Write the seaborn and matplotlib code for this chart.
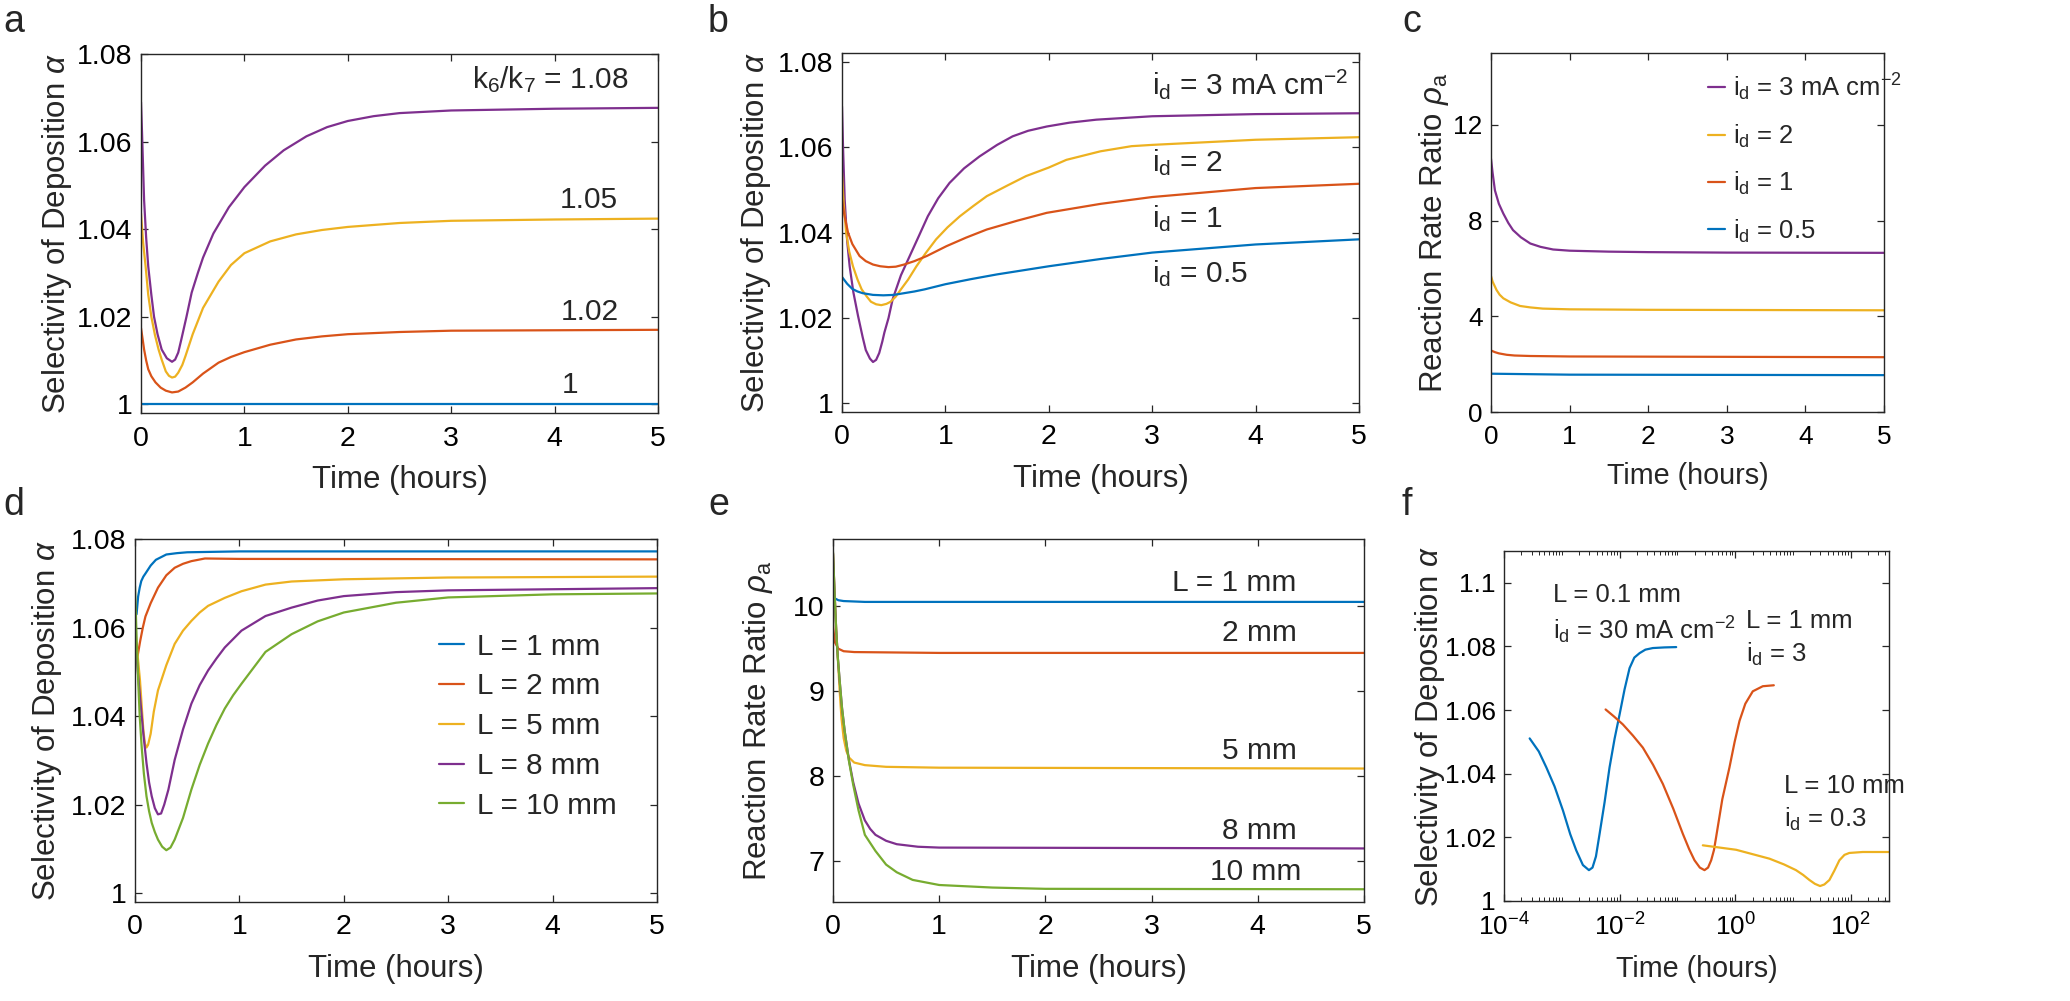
import math
import matplotlib
matplotlib.use('Agg')
import matplotlib.pyplot as plt
import matplotlib.ticker as mticker
from matplotlib import font_manager
import seaborn as sns

# MATLAB default line colours
BLUE = '#0072BD'
RED = '#D95319'
YELLOW = '#EDB120'
PURPLE = '#7E2F8E'
GREEN = '#77AC30'

# ---- panel a: selectivity vs time for several k6/k7 ----
a_labels = ['k$_\\mathregular{6}$/k$_\\mathregular{7}$ = 1.08', '1.05', '1.02', '1']
a_t_108 = [0, 0.01, 0.03, 0.05, 0.07, 0.1, 0.126, 0.16, 0.2, 0.25, 0.3, 0.33, 0.36, 0.39, 0.44, 0.49, 0.55, 0.6, 0.7, 0.85, 1.0, 1.2, 1.38, 1.6, 1.8, 2.0, 2.25, 2.5, 3.0, 4.0, 5.0]
a_v_108 = [1.069, 1.062, 1.0466, 1.038, 1.0315, 1.025, 1.020, 1.016, 1.0125, 1.0105, 1.0097, 1.0102, 1.0118, 1.0148, 1.020, 1.0255, 1.030, 1.0335, 1.039, 1.045, 1.0496, 1.0545, 1.058, 1.0612, 1.0633, 1.0647, 1.0658, 1.0665, 1.0671, 1.0675, 1.0677]
a_t_105 = [0, 0.02, 0.045, 0.07, 0.1, 0.135, 0.17, 0.2, 0.24, 0.27, 0.3, 0.33, 0.36, 0.4, 0.43, 0.5, 0.6, 0.75, 0.87, 1.0, 1.25, 1.5, 1.75, 2.0, 2.5, 3.0, 4.0, 5.0]
a_v_105 = [1.0436, 1.037, 1.0314, 1.025, 1.020, 1.0158, 1.0125, 1.0102, 1.0075, 1.0065, 1.0061, 1.0063, 1.0072, 1.009, 1.011, 1.016, 1.022, 1.028, 1.0318, 1.0345, 1.0372, 1.0388, 1.0398, 1.0405, 1.0414, 1.0419, 1.0422, 1.0424]
a_t_102 = [0, 0.015, 0.03, 0.05, 0.07, 0.1, 0.14, 0.19, 0.24, 0.3, 0.36, 0.43, 0.5, 0.6, 0.75, 0.87, 1.0, 1.25, 1.5, 1.75, 2.0, 2.5, 3.0, 4.0, 5.0]
a_v_102 = [1.0174, 1.015, 1.0125, 1.010, 1.008, 1.0064, 1.005, 1.0038, 1.0031, 1.0027, 1.0029, 1.0038, 1.005, 1.007, 1.0095, 1.0108, 1.0119, 1.0136, 1.0148, 1.0155, 1.016, 1.0165, 1.0168, 1.0169, 1.017]
a_t_100 = [0, 5.0]
a_v_100 = [1.0, 1.0]

# ---- panel b: selectivity vs time for several i_d ----
b_t_3 = [0, 0.01, 0.026, 0.05, 0.074, 0.11, 0.155, 0.2, 0.23, 0.27, 0.3, 0.33, 0.36, 0.39, 0.41, 0.45, 0.49, 0.57, 0.655, 0.74, 0.83, 0.93, 1.04, 1.18, 1.33, 1.5, 1.65, 1.8, 1.98, 2.2, 2.46, 3.0, 4.0, 5.0]
b_v_3 = [1.0695, 1.060, 1.0477, 1.038, 1.0321, 1.026, 1.0205, 1.0155, 1.0125, 1.0105, 1.0097, 1.0102, 1.0118, 1.0145, 1.0166, 1.020, 1.0244, 1.030, 1.0345, 1.039, 1.0438, 1.048, 1.0516, 1.055, 1.0578, 1.0605, 1.0625, 1.0638, 1.0648, 1.0657, 1.0664, 1.0672, 1.0677, 1.0679]
b_t_2 = [0, 0.015, 0.04, 0.07, 0.106, 0.15, 0.19, 0.24, 0.28, 0.33, 0.38, 0.43, 0.47, 0.52, 0.57, 0.64, 0.72, 0.81, 0.91, 1.02, 1.14, 1.27, 1.40, 1.6, 1.78, 2.0, 2.17, 2.5, 2.8, 3.0, 4.0, 5.0]
b_v_2 = [1.054, 1.047, 1.040, 1.0355, 1.0321, 1.029, 1.0267, 1.025, 1.0238, 1.0232, 1.023, 1.0233, 1.0238, 1.025, 1.0267, 1.029, 1.0321, 1.0352, 1.0384, 1.0412, 1.0438, 1.0462, 1.0485, 1.051, 1.0532, 1.0552, 1.057, 1.059, 1.0602, 1.0605, 1.0617, 1.0623]
b_t_1 = [0, 0.02, 0.058, 0.1, 0.17, 0.23, 0.3, 0.37, 0.45, 0.52, 0.6, 0.7, 0.82, 1.01, 1.2, 1.4, 1.7, 1.98, 2.5, 3.0, 4.0, 5.0]
b_v_1 = [1.0477, 1.0445, 1.040, 1.0373, 1.0345, 1.0333, 1.0325, 1.0321, 1.0319, 1.032, 1.0325, 1.0333, 1.0345, 1.0368, 1.0388, 1.0407, 1.0428, 1.0446, 1.0467, 1.0483, 1.0504, 1.0514]
b_t_05 = [0, 0.05, 0.1, 0.15, 0.2, 0.3, 0.4, 0.5, 0.6, 0.7, 0.8, 1.0, 1.25, 1.5, 2.0, 2.5, 3.0, 4.0, 5.0]
b_v_05 = [1.0296, 1.028, 1.0268, 1.0262, 1.0258, 1.0254, 1.0253, 1.0254, 1.0258, 1.0262, 1.0267, 1.0279, 1.0291, 1.0302, 1.0321, 1.0338, 1.0353, 1.0372, 1.0384]

# ---- panel c: reaction rate ratio for several i_d ----
c_labels = ['i$_\\mathregular{d}$ = 3 mA cm$^\\mathregular{-2}$', 'i$_\\mathregular{d}$ = 2',
            'i$_\\mathregular{d}$ = 1', 'i$_\\mathregular{d}$ = 0.5']
c_t_3 = [0, 0.02, 0.05, 0.1, 0.157, 0.22, 0.28, 0.38, 0.5, 0.63, 0.79, 1.0, 1.5, 2.0, 3.0, 5.0]
c_v_3 = [10.58, 10.0, 9.26, 8.7, 8.29, 7.9, 7.6, 7.3, 7.04, 6.9, 6.79, 6.74, 6.70, 6.68, 6.66, 6.65]
c_t_2 = [0, 0.02, 0.07, 0.11, 0.157, 0.25, 0.37, 0.5, 0.66, 1.0, 2.0, 5.0]
c_v_2 = [5.68, 5.45, 5.1, 4.9, 4.75, 4.58, 4.43, 4.37, 4.32, 4.29, 4.27, 4.25]
c_t_1 = [0, 0.05, 0.1, 0.2, 0.3, 0.5, 1.0, 5.0]
c_v_1 = [2.57, 2.50, 2.45, 2.39, 2.36, 2.34, 2.32, 2.29]
c_t_05 = [0, 1.0, 5.0]
c_v_05 = [1.60, 1.56, 1.54]

# ---- panel d: selectivity vs time for several L ----
d_labels = ['L = 1 mm', 'L = 2 mm', 'L = 5 mm', 'L = 8 mm', 'L = 10 mm']
d_t_1 = [0.015, 0.03, 0.045, 0.06, 0.08, 0.1, 0.15, 0.2, 0.3, 0.4, 0.5, 1.0, 5.0]
d_v_1 = [1.063, 1.067, 1.069, 1.0705, 1.0715, 1.0722, 1.074, 1.0753, 1.0765, 1.0768, 1.077, 1.0772, 1.0772]
d_t_2 = [0.025, 0.05, 0.075, 0.1, 0.15, 0.22, 0.3, 0.38, 0.46, 0.54, 0.67, 1.0, 5.0]
d_v_2 = [1.0536, 1.057, 1.060, 1.0625, 1.0655, 1.069, 1.0718, 1.0735, 1.0744, 1.075, 1.0756, 1.0755, 1.0754]
d_t_5 = [0, 0.02, 0.048, 0.065, 0.08, 0.095, 0.11, 0.125, 0.15, 0.18, 0.22, 0.3, 0.38, 0.46, 0.54, 0.62, 0.70, 0.86, 1.02, 1.25, 1.5, 2.0, 3.0, 5.0]
d_v_5 = [1.058, 1.055, 1.048, 1.042, 1.0368, 1.0338, 1.0329, 1.0335, 1.036, 1.041, 1.0458, 1.0515, 1.0563, 1.0593, 1.0615, 1.0634, 1.0649, 1.0667, 1.0682, 1.0697, 1.0704, 1.0709, 1.0713, 1.0715]
d_t_8 = [0, 0.02, 0.048, 0.08, 0.11, 0.135, 0.16, 0.19, 0.22, 0.25, 0.28, 0.32, 0.38, 0.46, 0.54, 0.62, 0.70, 0.78, 0.86, 1.02, 1.25, 1.5, 1.75, 2.0, 2.5, 3.0, 5.0]
d_v_8 = [1.057, 1.052, 1.0443, 1.036, 1.0294, 1.025, 1.0219, 1.0192, 1.0178, 1.018, 1.020, 1.0234, 1.0301, 1.037, 1.0428, 1.047, 1.0503, 1.053, 1.0555, 1.0593, 1.0626, 1.0645, 1.0661, 1.0671, 1.068, 1.0684, 1.0689]
d_t_10 = [0, 0.015, 0.03, 0.045, 0.064, 0.085, 0.11, 0.135, 0.16, 0.19, 0.22, 0.26, 0.30, 0.34, 0.38, 0.46, 0.54, 0.62, 0.70, 0.78, 0.86, 0.94, 1.02, 1.25, 1.5, 1.75, 2.0, 2.5, 3.0, 4.0, 5.0]
d_v_10 = [1.0694, 1.058, 1.0482, 1.040, 1.033, 1.027, 1.0219, 1.0185, 1.0159, 1.0138, 1.0121, 1.0105, 1.0097, 1.0103, 1.0121, 1.017, 1.0234, 1.029, 1.0338, 1.038, 1.0417, 1.0447, 1.0473, 1.0545, 1.0585, 1.0614, 1.0634, 1.0656, 1.0668, 1.0675, 1.0677]

# ---- panel e: reaction rate ratio for several L ----
e_labels = ['L = 1 mm', '2 mm', '5 mm', '8 mm', '10 mm']
e_t_1 = [0, 0.02, 0.05, 0.1, 0.3, 5.0]
e_v_1 = [10.12, 10.09, 10.07, 10.06, 10.05, 10.05]
e_t_2 = [0, 0.01, 0.02, 0.05, 0.1, 0.2, 1.0, 5.0]
e_v_2 = [9.78, 9.65, 9.57, 9.50, 9.47, 9.46, 9.45, 9.45]
e_t_5 = [0, 0.015, 0.03, 0.045, 0.063, 0.08, 0.1, 0.125, 0.15, 0.2, 0.3, 0.5, 1.0, 5.0]
e_v_5 = [10.62, 10.15, 9.72, 9.4, 9.0, 8.68, 8.45, 8.30, 8.22, 8.16, 8.13, 8.11, 8.10, 8.09]
e_t_8 = [0, 0.015, 0.03, 0.045, 0.063, 0.085, 0.11, 0.15, 0.19, 0.24, 0.3, 0.35, 0.4, 0.5, 0.6, 0.8, 1.0, 5.0]
e_v_8 = [10.62, 10.15, 9.72, 9.4, 9.12, 8.8, 8.53, 8.19, 7.93, 7.68, 7.48, 7.38, 7.31, 7.24, 7.20, 7.17, 7.16, 7.15]
e_t_10 = [0, 0.015, 0.03, 0.045, 0.063, 0.085, 0.11, 0.15, 0.19, 0.24, 0.3, 0.4, 0.5, 0.6, 0.75, 1.0, 1.5, 2.0, 5.0]
e_v_10 = [10.64, 10.15, 9.72, 9.4, 9.12, 8.8, 8.53, 8.18, 7.90, 7.60, 7.31, 7.12, 6.96, 6.87, 6.78, 6.72, 6.69, 6.675, 6.67]

# ---- panel f: selectivity vs log time, three cases ----
f_labels = ['L = 0.1 mm', 'i$_\\mathregular{d}$ = 30 mA cm$^\\mathregular{-2}$',
            'L = 1 mm', 'i$_\\mathregular{d}$ = 3', 'L = 10 mm', 'i$_\\mathregular{d}$ = 0.3']
f_t_01 = [2.78e-4, 4.0e-4, 5.4e-4, 7.5e-4, 1.05e-3, 1.4e-3, 1.78e-3, 2.32e-3, 2.95e-3, 3.4e-3, 3.9e-3, 4.51e-3, 5.5e-3, 6.71e-3, 8.2e-3, 1.0e-2, 1.22e-2, 1.49e-2, 1.8e-2, 2.22e-2, 2.8e-2, 3.77e-2, 6.0e-2, 9.55e-2]
f_v_01 = [1.0511, 1.047, 1.042, 1.036, 1.0284, 1.021, 1.0159, 1.0113, 1.0097, 1.0105, 1.014, 1.0211, 1.031, 1.042, 1.051, 1.0586, 1.0665, 1.0732, 1.0765, 1.0779, 1.079, 1.0795, 1.0797, 1.0798]
f_t_1 = [5.73e-3, 8.0e-3, 1.14e-2, 1.7e-2, 2.53e-2, 3.8e-2, 5.61e-2, 8.5e-2, 0.1245, 0.16, 0.198, 0.245, 0.295, 0.34, 0.385, 0.43, 0.469, 0.6, 0.798, 0.98, 1.19, 1.5, 2.02, 3.01, 4.67]
f_v_1 = [1.0602, 1.058, 1.0555, 1.052, 1.0482, 1.0428, 1.0368, 1.029, 1.0211, 1.0163, 1.0128, 1.0105, 1.0097, 1.0105, 1.0128, 1.016, 1.0201, 1.032, 1.042, 1.050, 1.0566, 1.062, 1.0659, 1.0675, 1.0678]
f_t_10 = [0.276, 1.04, 3.93, 7.0, 11.3, 15.0, 19.3, 24.0, 29.5, 35.0, 42.8, 52.0, 63.7, 78.0, 94.8, 161, 460]
f_v_10 = [1.0175, 1.0161, 1.0133, 1.0115, 1.0097, 1.0082, 1.0066, 1.0054, 1.0047, 1.0052, 1.0066, 1.0095, 1.0128, 1.0145, 1.0151, 1.0154, 1.0154]

sns.set_theme(style='ticks')
plt.rcParams['font.family'] = ['Liberation Sans', 'DejaVu Sans']
plt.rcParams['mathtext.fontset'] = 'custom'
plt.rcParams['mathtext.rm'] = 'Liberation Sans'
plt.rcParams['mathtext.it'] = 'Liberation Sans:italic'
plt.rcParams['mathtext.bf'] = 'Liberation Sans:bold'

# panels c and f were squeezed sideways in the original; use a narrow face if there is one,
# otherwise fall back to a somewhat smaller Liberation Sans
installed = {f.name for f in font_manager.fontManager.ttflist}
if 'Liberation Sans Narrow' in installed:
    NARROW, NSCALE = 'Liberation Sans Narrow', 1.0
else:
    NARROW, NSCALE = 'Liberation Sans', 0.86

W, H = 2070, 1001
fig = plt.figure(figsize=(W / 100, H / 100), dpi=100)


def make_ax(l, r, t, b):
    return fig.add_axes([l / W, 1 - b / H, (r - l) / W, (b - t) / H])


TICK = 20.5
LAB = 22.5
ANN = 21.5
LW = 1.6


def style(ax, narrow=False):
    fam = NARROW if narrow else 'Liberation Sans'
    for s in ax.spines.values():
        s.set_color('#262626')
        s.set_linewidth(1.0)
    ax.tick_params(which='major', direction='in', length=5, width=0.9, top=True, right=True,
                   color='#262626', labelsize=TICK, labelcolor='black')
    ax.tick_params(axis='x', pad=9)
    ax.tick_params(axis='y', pad=6)
    tsize = (TICK * 1.05 if NSCALE == 1.0 else TICK * 0.92) if narrow else TICK
    for lab in ax.get_xticklabels() + ax.get_yticklabels():
        lab.set_family(fam)
        lab.set_fontsize(tsize)
    xs = (LAB if NSCALE == 1.0 else LAB * 0.92) if narrow else LAB
    ax.set_xlabel('Time (hours)', fontsize=xs, family=fam, labelpad=10)


def draw(ax, t, v, c, label=None):
    sns.lineplot(x=t, y=v, ax=ax, color=c, linewidth=LW, label=label, errorbar=None)


SEL = 'Selectivity of Deposition $\\alpha$'
RR = 'Reaction Rate Ratio $\\rho_\\mathregular{a}$'
gfmt = mticker.FuncFormatter(lambda x, p: '%g' % round(x, 4))

# a
ax = make_ax(141, 658, 54, 413)
for t, v, c in [(a_t_108, a_v_108, PURPLE), (a_t_105, a_v_105, YELLOW),
                (a_t_102, a_v_102, RED), (a_t_100, a_v_100, BLUE)]:
    draw(ax, t, v, c)
ax.set_xlim(0, 5)
ax.set_ylim(0.998, 1.08)
ax.set_xticks(range(6))
ax.set_yticks([1, 1.02, 1.04, 1.06, 1.08])
ax.yaxis.set_major_formatter(gfmt)
ax.set_ylabel(SEL, fontsize=LAB, labelpad=2)
style(ax)
for txt, x, y in zip(a_labels, [3.955, 4.33, 4.34, 4.15], [1.0723, 1.0448, 1.0193, 1.0025]):
    ax.text(x, y, txt, fontsize=ANN, ha='center', va='baseline')

# b
ax = make_ax(842, 1359, 53, 412)
for t, v, c in [(b_t_3, b_v_3, PURPLE), (b_t_2, b_v_2, YELLOW),
                (b_t_1, b_v_1, RED), (b_t_05, b_v_05, BLUE)]:
    draw(ax, t, v, c)
ax.set_xlim(0, 5)
ax.set_ylim(0.998, 1.082)
ax.set_xticks(range(6))
ax.set_yticks([1, 1.02, 1.04, 1.06, 1.08])
ax.yaxis.set_major_formatter(gfmt)
ax.set_ylabel(SEL, fontsize=LAB, labelpad=4)
style(ax)
for txt, y in zip(c_labels, [1.0723, 1.0543, 1.0412, 1.0284]):
    ax.text(3.0, y, txt, fontsize=ANN, ha='left', va='baseline')

# c
ax = make_ax(1491, 1884, 53, 412)
for t, v, c, lab in [(c_t_3, c_v_3, PURPLE, c_labels[0]), (c_t_2, c_v_2, YELLOW, c_labels[1]),
                     (c_t_1, c_v_1, RED, c_labels[2]), (c_t_05, c_v_05, BLUE, c_labels[3])]:
    draw(ax, t, v, c, lab)
ax.set_xlim(0, 5)
ax.set_ylim(0, 15)
ax.set_xticks(range(6))
ax.set_yticks([0, 4, 8, 12])
ax.set_ylabel(RR, fontsize=LAB, labelpad=2)
style(ax, narrow=True)
leg_fs = 21.5 * NSCALE
leg_px = leg_fs * 100 / 72
ax.legend(loc='upper left', bbox_to_anchor=(0.526, 0.977), frameon=False,
          prop={'family': NARROW, 'size': leg_fs}, handlelength=17 / leg_px,
          handletextpad=8 / leg_px, labelspacing=0.78, borderaxespad=0)

# d
ax = make_ax(135, 657, 539, 902)
for t, v, c, lab in [(d_t_1, d_v_1, BLUE, d_labels[0]), (d_t_2, d_v_2, RED, d_labels[1]),
                     (d_t_5, d_v_5, YELLOW, d_labels[2]), (d_t_8, d_v_8, PURPLE, d_labels[3]),
                     (d_t_10, d_v_10, GREEN, d_labels[4])]:
    draw(ax, t, v, c, lab)
ax.set_xlim(0, 5)
ax.set_ylim(0.998, 1.0797)
ax.set_xticks(range(6))
ax.set_yticks([1, 1.02, 1.04, 1.06, 1.08])
ax.yaxis.set_major_formatter(gfmt)
ax.set_ylabel(SEL, fontsize=LAB, labelpad=5)
style(ax)
ax.legend(loc='upper left', bbox_to_anchor=(0.56, 0.775), frameon=False,
          prop={'size': 21.3}, handlelength=0.85, handletextpad=0.42,
          labelspacing=0.4, borderaxespad=0)

# e
ax = make_ax(833, 1364, 539, 902)
for t, v, c in [(e_t_1, e_v_1, BLUE), (e_t_2, e_v_2, RED), (e_t_5, e_v_5, YELLOW),
                (e_t_8, e_v_8, PURPLE), (e_t_10, e_v_10, GREEN)]:
    draw(ax, t, v, c)
ax.set_xlim(0, 5)
ax.set_ylim(6.52, 10.79)
ax.set_xticks(range(6))
ax.set_yticks([7, 8, 9, 10])
ax.set_ylabel(RR, fontsize=LAB, labelpad=13)
style(ax)
for txt, x, y in zip(e_labels, [4.366, 4.366, 4.366, 4.366, 4.41], [10.18, 9.59, 8.20, 7.26, 6.78]):
    ax.text(x, y, txt, fontsize=ANN, ha='right', va='baseline')

# f
ax = make_ax(1504, 1889, 551, 901)
for t, v, c in [(f_t_01, f_v_01, BLUE), (f_t_1, f_v_1, RED), (f_t_10, f_v_10, YELLOW)]:
    draw(ax, t, v, c)
ax.set_xscale('log')
ax.set_xlim(1e-4, 460)
ax.set_ylim(1.0, 1.11)
ax.set_xticks([1e-4, 1e-2, 1, 1e2])
ax.xaxis.set_minor_locator(mticker.LogLocator(base=10, subs=range(1, 10), numticks=30))
ax.xaxis.set_minor_formatter(mticker.NullFormatter())
ax.xaxis.set_major_formatter(mticker.FuncFormatter(
    lambda x, p: '10$^{\\mathregular{%d}}$' % round(math.log10(x))))
ax.set_yticks([1, 1.02, 1.04, 1.06, 1.08, 1.1])
ax.yaxis.set_major_formatter(gfmt)
ax.set_ylabel(SEL, fontsize=LAB, labelpad=-2)
style(ax, narrow=True)
ax.tick_params(which='minor', direction='in', length=3, width=0.7, top=True, color='#262626')
f_x = [7.0e-4, 7.0e-4, 1.53, 1.53, 6.95, 6.95]
f_y = [1.0941, 1.0821, 1.0859, 1.0753, 1.0338, 1.0232]
for txt, x, y in zip(f_labels, f_x, f_y):
    ax.text(x, y, txt, fontsize=21.5 * NSCALE, ha='left', va='baseline', family=NARROW)

# panel letters
for letter, x, y in [('a', 3, 32), ('b', 708, 32), ('c', 1402, 32),
                     ('d', 3, 515), ('e', 708, 515), ('f', 1402, 515)]:
    fig.text(x / W, 1 - y / H, letter, fontsize=27, ha='left', va='baseline')

fig.savefig('out.png', dpi=100)
